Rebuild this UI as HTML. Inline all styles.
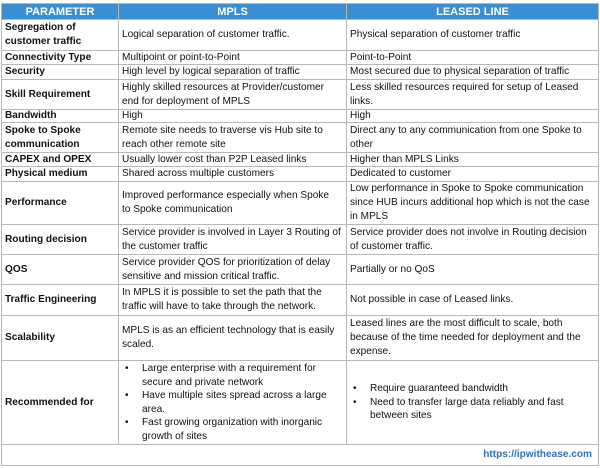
<!DOCTYPE html>
<html><head><style>
body{margin:0;width:600px;height:468px;background:#fff;font-family:"Liberation Sans",sans-serif;overflow:hidden}
table{position:absolute;left:1px;top:3px;border-collapse:collapse;table-layout:fixed;width:597px}
td{border:1px solid #b8b8b8;padding:0 3px;font-size:10.1px;line-height:14px;color:#111;white-space:nowrap;vertical-align:middle;overflow:hidden}
tr.s td{line-height:12px}
td:first-child{font-weight:bold}
th{background:#3a8fd2;color:#fff;font-size:11px;font-weight:bold;height:15px;line-height:14px;border:1px solid #b8b8b8;padding:0}
ul{margin:0;padding:0 0 0 20px;list-style:none;line-height:13.5px}
li{position:relative}
li:before{content:"•";position:absolute;left:-17px}
</style></head><body>
<table>
<col style="width:117px"><col style="width:228px"><col style="width:252px">
<tr><th>PARAMETER</th><th>MPLS</th><th>LEASED LINE</th></tr>
<tr style="height:31px"><td>Segregation of<br>customer traffic</td><td>Logical separation of customer traffic.</td><td>Physical separation of customer traffic</td></tr>
<tr class="s" style="height:14px"><td>Connectivity Type</td><td>Multipoint or point-to-Point</td><td>Point-to-Point</td></tr>
<tr class="s" style="height:15px"><td>Security</td><td>High level by logical separation of traffic</td><td>Most secured due to physical separation of traffic</td></tr>
<tr style="height:30px"><td>Skill Requirement</td><td>Highly skilled resources at Provider/customer<br>end for deployment of MPLS</td><td>Less skilled resources required for setup of Leased<br>links.</td></tr>
<tr class="s" style="height:13px"><td>Bandwidth</td><td>High</td><td>High</td></tr>
<tr style="height:30px"><td>Spoke to Spoke<br>communication</td><td>Remote site needs to traverse vis Hub site to<br>reach other remote site</td><td>Direct any to any communication from one Spoke to<br>other</td></tr>
<tr class="s" style="height:14px"><td>CAPEX and OPEX</td><td>Usually lower cost than P2P Leased links</td><td>Higher than MPLS Links</td></tr>
<tr class="s" style="height:15px"><td>Physical medium</td><td>Shared across multiple customers</td><td>Dedicated to customer</td></tr>
<tr style="height:43px"><td>Performance</td><td>Improved performance especially when Spoke<br>to Spoke communication</td><td>Low performance in Spoke to Spoke communication<br>since HUB incurs additional hop which is not the case<br>in MPLS</td></tr>
<tr style="height:30px"><td>Routing decision</td><td>Service provider is involved in Layer 3 Routing of<br>the customer traffic</td><td>Service provider does not involve in Routing decision<br>of customer traffic.</td></tr>
<tr style="height:30px"><td>QOS</td><td>Service provider QOS for prioritization of delay<br>sensitive and mission critical traffic.</td><td>Partially or no QoS</td></tr>
<tr style="height:31px"><td>Traffic Engineering</td><td>In MPLS it is possible to set the path that the<br>traffic will have to take through the network.</td><td>Not possible in case of Leased links.</td></tr>
<tr style="height:45px"><td>Scalability</td><td>MPLS is as an efficient technology that is easily<br>scaled.</td><td>Leased lines are the most difficult to scale, both<br>because of the time needed for deployment and the<br>expense.</td></tr>
<tr style="height:84px"><td>Recommended for</td><td><ul><li>Large enterprise with a requirement for<br>secure and private network</li><li>Have multiple sites spread across a large<br>area.</li><li>Fast growing organization with inorganic<br>growth of sites</li></ul></td><td><ul><li>Require guaranteed bandwidth</li><li>Need to transfer large data reliably and fast<br>between sites</li></ul></td></tr>
<tr class="s" style="height:21px"><td colspan="3" style="text-align:right;color:#2e74b5;font-weight:bold;padding-right:6px">https://ipwithease.com</td></tr>
</table>
</body></html>
